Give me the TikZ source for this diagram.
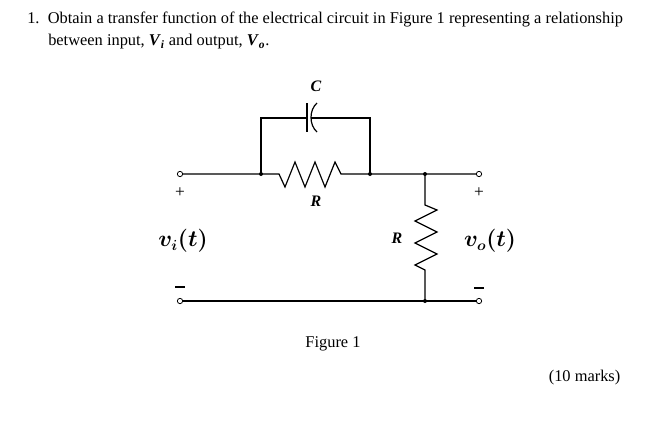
\documentclass[tikz,border=0pt]{standalone}
\usepackage{amsmath}
\usepackage{fontspec}
\setmainfont{Liberation Serif}
\usetikzlibrary{calc}
\begin{document}
\begin{tikzpicture}[x=0.75pt,y=-0.75pt,
  wire/.style={line width=0.9pt},
  dot/.style={circle,fill,inner sep=0pt,minimum size=3pt},
  term/.style={circle,draw,fill=white,line width=0.6pt,inner sep=0pt,minimum size=4pt},
  lbl/.style={font=\fontsize{12}{14}\selectfont\bfseries\itshape,inner sep=0pt},
  txt/.style={font=\fontsize{12.3}{14}\selectfont,inner sep=0pt,anchor=west}]
\useasboundingbox (0,0) rectangle (672,422);
\node[txt] (l1) at (27,19) {1.\ \ Obtain a transfer function of the electrical circuit in Figure 1 representing a relationship};
\node[txt] (l2) at (48,42) {between input, \textbf{\textit{V}}\textsubscript{\textbf{\textit{i}}} and output, \textbf{\textit{V}}\textsubscript{\textbf{\textit{o}}}.};
\coordinate (j1) at (261,174);
\coordinate (j2) at (370,174);
\coordinate (j3) at (425,174);
\coordinate (j4) at (425,301);
\coordinate (tl1) at (261,118);
\coordinate (tl2) at (370,118);
\node[term] (ti) at (180,174) {};
\node[term] (to) at (479,174) {};
\node[term] (bi) at (180,301) {};
\node[term] (bo) at (479,301) {};
\draw[wire] (ti) -- (j1) -- (279,174) -- (285,187) -- (295,162) -- (305,187) -- (315,162) -- (325,187) -- (335,162) -- (341,174) -- (j2) -- (j3) -- (to);
\draw[wire] (j1) -- (tl1) -- (307,118);
\draw[wire] (307,103) -- (307,132);
\draw[wire] (317,103) .. controls (309,110) and (309,125) .. (317,132);
\draw[wire] (311,118) -- (tl2) -- (j2);
\draw[wire] (j3) -- (425,205) -- (437,210) -- (415,221) -- (437,232) -- (415,243) -- (437,254) -- (415,265) -- (425,270) -- (j4);
\draw[wire] (bi) -- (j4) -- (bo);
\node[dot] at (j1) {}; \node[dot] at (j2) {}; \node[dot] at (j3) {}; \node[dot] at (j4) {};
\node[lbl] (lc) at (316,86) {C};
\node[lbl] (lr1) at (316,201) {R};
\node[lbl] (lr2) at (397,238) {R};
\node[font=\fontsize{13}{14}\selectfont] (p1) at (180,193) {+};
\node[font=\fontsize{13}{14}\selectfont] (p2) at (479,193) {+};
\draw[line width=0.9pt] (175,287) -- (185,287);
\draw[line width=0.9pt] (474,288) -- (484,288);
\node[font=\fontsize{16}{17}\selectfont,inner sep=0pt] (vi) at (183,241) {$\boldsymbol{v_i(t)}$};
\node[font=\fontsize{16}{17}\selectfont,inner sep=0pt] (vo) at (490,241) {$\boldsymbol{v_o(t)}$};
\node[font=\fontsize{12.3}{14}\selectfont] (fig) at (333,344) {Figure 1};
\node[font=\fontsize{12.3}{14}\selectfont,anchor=east] (mk) at (625,378) {(10 marks)};
\end{tikzpicture}
\end{document}
